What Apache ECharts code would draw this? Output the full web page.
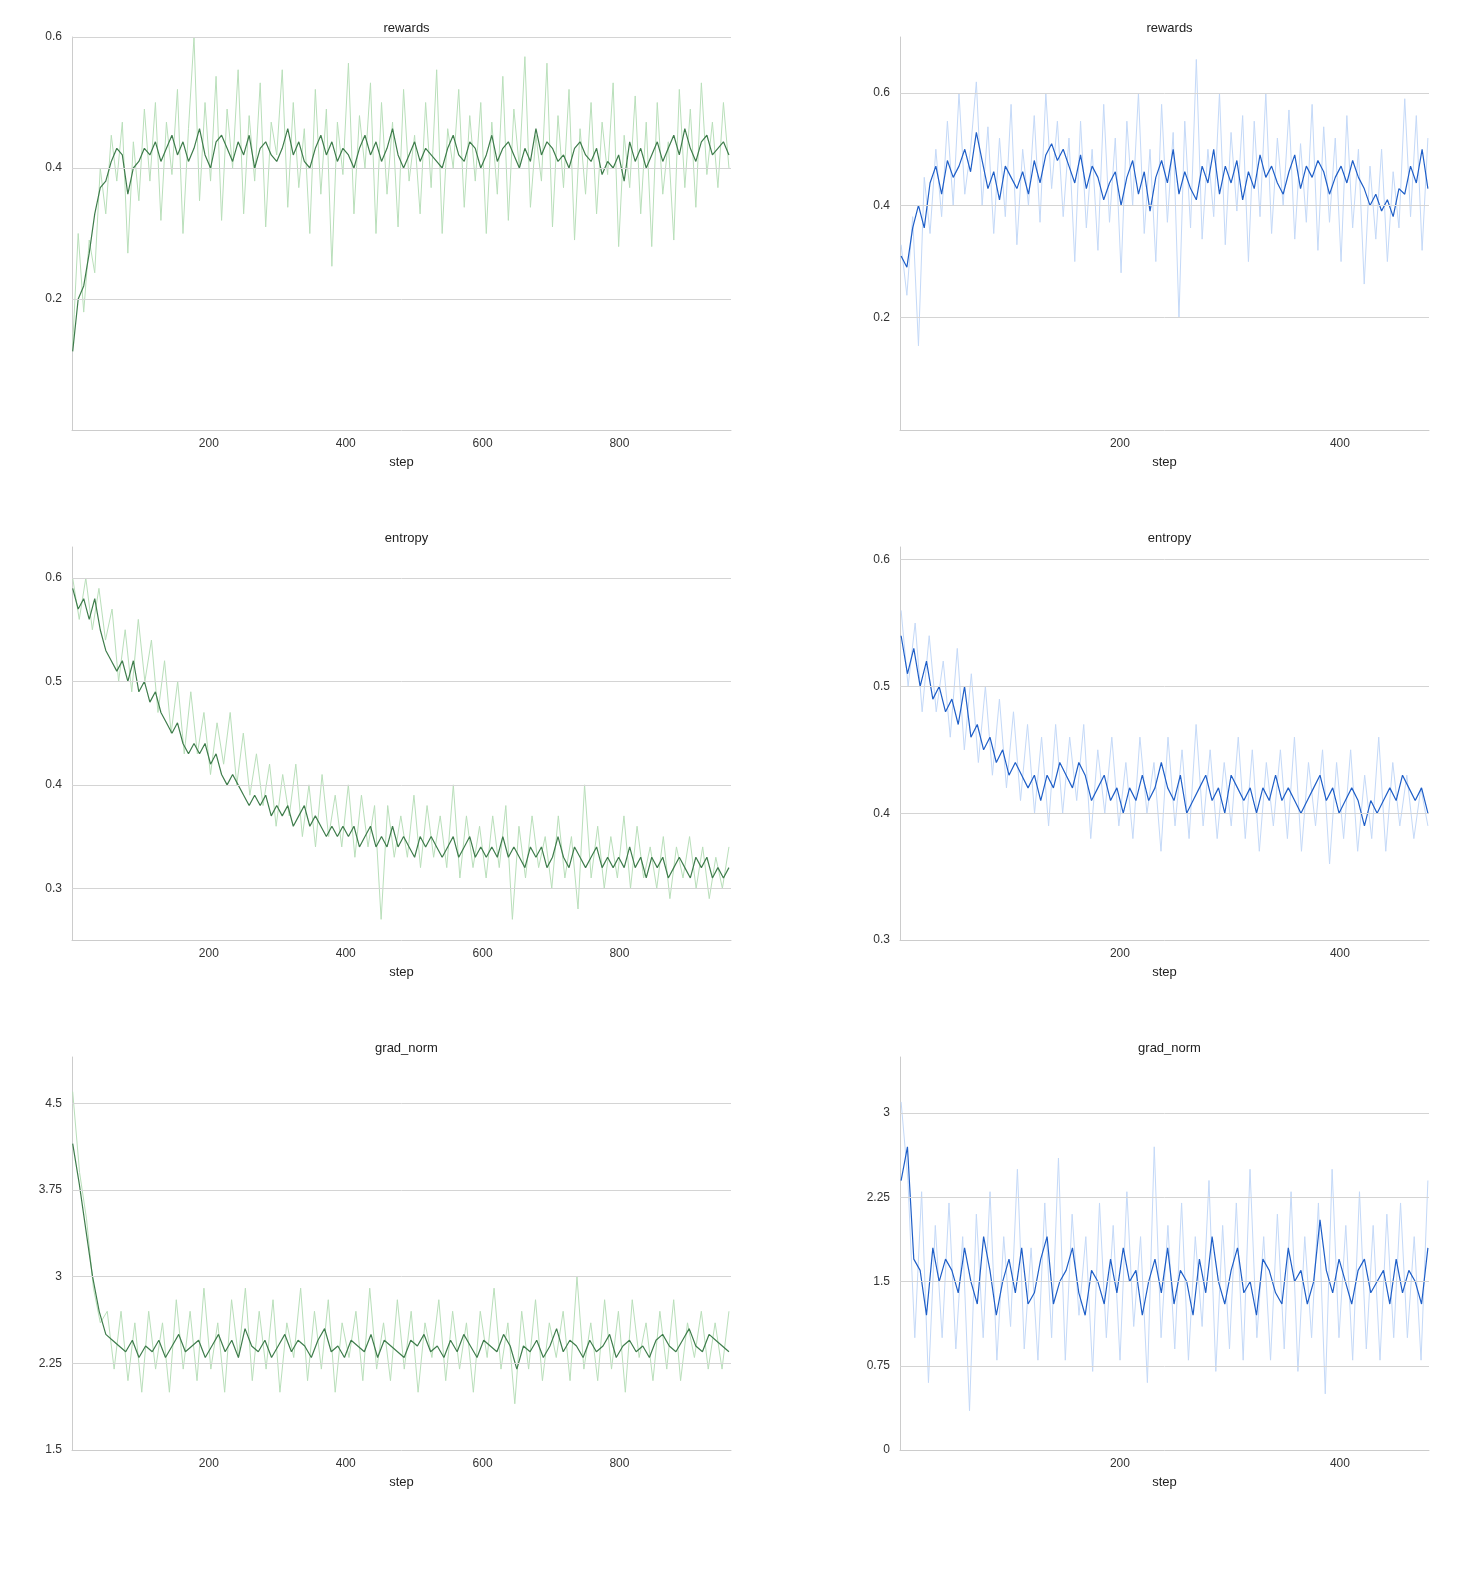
<!DOCTYPE html>
<html>
<head>
<meta charset="utf-8">
<script src="https://cdn.jsdelivr.net/npm/echarts@6/dist/echarts.min.js"></script>
<style>html,body{margin:0;background:#fff}#main{width:1475px;height:1583px}</style>
</head>
<body>
<div id="main"></div>
<script>
// left run (~960 steps), green
const leftRewardsSmooth = [0.12,0.2,0.22,0.27,0.33,0.37,0.38,0.41,0.43,0.42,0.36,0.40,0.41,0.43,0.42,0.44,0.41,0.43,0.45,0.42,0.44,0.41,0.43,0.46,0.42,0.40,0.44,0.45,0.43,0.41,0.44,0.42,0.45,0.40,0.43,0.44,0.42,0.41,0.43,0.46,0.42,0.44,0.41,0.40,0.43,0.45,0.42,0.44,0.41,0.43,0.42,0.40,0.43,0.45,0.42,0.44,0.41,0.43,0.46,0.42,0.40,0.42,0.44,0.41,0.43,0.42,0.41,0.40,0.43,0.45,0.42,0.41,0.44,0.43,0.40,0.42,0.45,0.41,0.43,0.44,0.42,0.40,0.43,0.41,0.46,0.42,0.44,0.43,0.41,0.42,0.40,0.43,0.44,0.42,0.41,0.43,0.39,0.41,0.40,0.42,0.38,0.44,0.41,0.43,0.40,0.42,0.44,0.41,0.43,0.45,0.42,0.46,0.43,0.41,0.44,0.45,0.42,0.43,0.44,0.42]
const leftRewardsRaw = [0.13,0.3,0.18,0.29,0.24,0.4,0.33,0.45,0.38,0.47,0.27,0.44,0.35,0.49,0.38,0.5,0.32,0.47,0.39,0.52,0.3,0.46,0.6,0.35,0.5,0.38,0.54,0.32,0.49,0.4,0.55,0.33,0.48,0.38,0.53,0.31,0.47,0.42,0.55,0.34,0.5,0.37,0.46,0.3,0.52,0.36,0.49,0.25,0.47,0.39,0.56,0.33,0.48,0.4,0.53,0.3,0.5,0.36,0.47,0.31,0.52,0.38,0.45,0.33,0.5,0.37,0.55,0.3,0.46,0.4,0.52,0.34,0.48,0.38,0.5,0.3,0.47,0.36,0.54,0.32,0.49,0.4,0.57,0.34,0.45,0.38,0.56,0.31,0.48,0.37,0.52,0.29,0.46,0.36,0.5,0.33,0.47,0.39,0.53,0.28,0.45,0.37,0.51,0.33,0.47,0.28,0.5,0.36,0.44,0.29,0.52,0.37,0.49,0.34,0.53,0.39,0.47,0.37,0.5,0.4]
const leftEntropySmooth = [0.59,0.57,0.58,0.56,0.58,0.55,0.53,0.52,0.51,0.52,0.50,0.52,0.49,0.50,0.48,0.49,0.47,0.46,0.45,0.46,0.44,0.43,0.44,0.43,0.44,0.42,0.43,0.41,0.40,0.41,0.40,0.39,0.38,0.39,0.38,0.39,0.37,0.38,0.37,0.38,0.36,0.37,0.38,0.36,0.37,0.36,0.35,0.36,0.35,0.36,0.35,0.36,0.34,0.35,0.36,0.34,0.35,0.34,0.36,0.34,0.35,0.34,0.33,0.35,0.34,0.35,0.34,0.33,0.34,0.35,0.33,0.34,0.35,0.33,0.34,0.33,0.34,0.33,0.35,0.33,0.34,0.33,0.32,0.34,0.33,0.34,0.32,0.33,0.35,0.33,0.32,0.34,0.33,0.32,0.33,0.34,0.32,0.33,0.32,0.33,0.32,0.34,0.32,0.33,0.31,0.33,0.32,0.33,0.31,0.32,0.33,0.32,0.31,0.33,0.32,0.33,0.31,0.32,0.31,0.32]
const leftEntropyRaw = [0.6,0.56,0.6,0.55,0.59,0.54,0.57,0.5,0.55,0.49,0.56,0.5,0.54,0.47,0.52,0.45,0.5,0.43,0.49,0.43,0.47,0.41,0.46,0.42,0.47,0.4,0.45,0.39,0.43,0.38,0.42,0.36,0.41,0.37,0.42,0.35,0.4,0.34,0.41,0.35,0.39,0.34,0.4,0.33,0.39,0.34,0.38,0.27,0.38,0.33,0.37,0.33,0.39,0.32,0.38,0.33,0.37,0.32,0.4,0.31,0.37,0.32,0.36,0.31,0.37,0.32,0.38,0.27,0.36,0.31,0.37,0.32,0.35,0.3,0.37,0.31,0.35,0.28,0.4,0.31,0.36,0.3,0.35,0.31,0.37,0.3,0.36,0.31,0.34,0.3,0.35,0.29,0.34,0.31,0.35,0.3,0.34,0.29,0.33,0.3,0.34]
const leftGradSmooth = [4.15,3.8,3.4,3.0,2.7,2.5,2.45,2.4,2.35,2.45,2.3,2.4,2.35,2.45,2.3,2.4,2.5,2.35,2.4,2.45,2.3,2.4,2.5,2.35,2.45,2.3,2.55,2.4,2.35,2.45,2.3,2.4,2.5,2.35,2.45,2.4,2.3,2.45,2.55,2.35,2.4,2.3,2.45,2.4,2.35,2.5,2.3,2.45,2.4,2.35,2.3,2.45,2.4,2.5,2.35,2.4,2.3,2.45,2.35,2.5,2.4,2.3,2.45,2.4,2.35,2.5,2.4,2.2,2.4,2.35,2.45,2.3,2.4,2.55,2.35,2.45,2.4,2.3,2.45,2.35,2.4,2.5,2.3,2.4,2.45,2.35,2.4,2.3,2.45,2.5,2.4,2.35,2.45,2.55,2.4,2.35,2.5,2.45,2.4,2.35]
const leftGradRaw = [4.6,3.9,3.5,2.9,2.6,2.7,2.2,2.7,2.1,2.6,2.0,2.7,2.2,2.6,2.0,2.8,2.2,2.7,2.1,2.9,2.2,2.6,2.0,2.8,2.3,2.9,2.1,2.7,2.2,2.8,2.0,2.6,2.3,2.9,2.1,2.7,2.2,2.8,2.0,2.6,2.3,2.7,2.1,2.9,2.2,2.6,2.1,2.8,2.2,2.7,2.0,2.6,2.3,2.8,2.1,2.7,2.2,2.6,2.0,2.7,2.3,2.9,2.2,2.6,1.9,2.7,2.2,2.8,2.1,2.6,2.3,2.7,2.1,3.0,2.2,2.6,2.1,2.8,2.2,2.7,2.0,2.8,2.3,2.6,2.1,2.7,2.2,2.8,2.1,2.6,2.3,2.7,2.2,2.6,2.2,2.7]

// right run (~480 steps), blue
const rightRewardsSmooth = [0.31,0.29,0.36,0.40,0.36,0.44,0.47,0.42,0.48,0.45,0.47,0.50,0.46,0.53,0.48,0.43,0.46,0.41,0.47,0.45,0.43,0.46,0.42,0.48,0.44,0.49,0.51,0.48,0.50,0.47,0.44,0.49,0.43,0.47,0.45,0.41,0.44,0.46,0.40,0.45,0.48,0.42,0.46,0.39,0.45,0.48,0.44,0.50,0.42,0.46,0.43,0.41,0.47,0.44,0.50,0.42,0.47,0.44,0.48,0.41,0.46,0.43,0.49,0.45,0.47,0.44,0.42,0.46,0.49,0.43,0.47,0.45,0.48,0.46,0.42,0.45,0.47,0.44,0.48,0.45,0.43,0.40,0.42,0.39,0.41,0.38,0.43,0.42,0.47,0.44,0.50,0.43]
const rightRewardsRaw = [0.33,0.24,0.38,0.15,0.45,0.35,0.5,0.38,0.55,0.4,0.6,0.42,0.5,0.62,0.4,0.54,0.35,0.52,0.38,0.58,0.33,0.5,0.4,0.56,0.37,0.6,0.43,0.55,0.38,0.52,0.3,0.55,0.36,0.5,0.32,0.58,0.37,0.52,0.28,0.55,0.4,0.6,0.35,0.5,0.3,0.58,0.37,0.53,0.2,0.55,0.36,0.66,0.34,0.5,0.38,0.6,0.33,0.53,0.39,0.56,0.3,0.55,0.38,0.6,0.35,0.52,0.4,0.57,0.34,0.51,0.37,0.58,0.32,0.54,0.37,0.52,0.3,0.56,0.36,0.5,0.26,0.47,0.34,0.5,0.3,0.46,0.36,0.59,0.38,0.56,0.32,0.52]
const rightEntropySmooth = [0.54,0.51,0.53,0.5,0.52,0.49,0.5,0.48,0.49,0.47,0.5,0.46,0.47,0.45,0.46,0.44,0.45,0.43,0.44,0.43,0.42,0.43,0.41,0.43,0.42,0.44,0.43,0.42,0.44,0.43,0.41,0.42,0.43,0.41,0.42,0.40,0.42,0.41,0.43,0.41,0.42,0.44,0.42,0.41,0.43,0.40,0.41,0.42,0.43,0.41,0.42,0.40,0.43,0.42,0.41,0.42,0.40,0.42,0.41,0.43,0.41,0.42,0.41,0.40,0.41,0.42,0.43,0.41,0.42,0.40,0.41,0.42,0.41,0.39,0.41,0.40,0.41,0.42,0.41,0.43,0.42,0.41,0.42,0.4]
const rightEntropyRaw = [0.56,0.5,0.55,0.48,0.54,0.48,0.52,0.46,0.53,0.45,0.51,0.44,0.5,0.43,0.49,0.42,0.48,0.41,0.47,0.4,0.46,0.39,0.47,0.4,0.46,0.41,0.47,0.38,0.45,0.4,0.46,0.39,0.44,0.38,0.46,0.4,0.44,0.37,0.46,0.39,0.45,0.38,0.47,0.39,0.45,0.38,0.44,0.39,0.46,0.38,0.45,0.37,0.44,0.39,0.45,0.38,0.46,0.37,0.44,0.39,0.45,0.36,0.44,0.38,0.45,0.37,0.43,0.38,0.46,0.37,0.44,0.39,0.43,0.38,0.42,0.39]
const rightGradSmooth = [2.4,2.7,1.7,1.6,1.2,1.8,1.5,1.7,1.6,1.4,1.8,1.5,1.3,1.9,1.6,1.2,1.5,1.7,1.4,1.8,1.3,1.4,1.7,1.9,1.3,1.5,1.6,1.8,1.4,1.2,1.6,1.5,1.3,1.7,1.4,1.8,1.5,1.6,1.2,1.5,1.7,1.4,1.8,1.3,1.6,1.5,1.2,1.7,1.4,1.9,1.5,1.3,1.6,1.8,1.4,1.5,1.2,1.7,1.6,1.4,1.3,1.8,1.5,1.6,1.3,1.5,2.05,1.6,1.4,1.7,1.5,1.3,1.6,1.7,1.4,1.5,1.6,1.3,1.7,1.4,1.6,1.5,1.3,1.8]
const rightGradRaw = [3.1,2.4,1.0,2.3,0.6,2.0,1.0,2.2,0.9,1.9,0.35,2.1,1.0,2.3,0.8,1.9,1.1,2.5,0.9,1.8,0.8,2.2,1.0,2.6,0.8,2.1,1.2,1.9,0.7,2.2,1.0,2.0,0.8,2.3,1.1,1.9,0.6,2.7,1.0,2.0,0.9,2.2,0.8,1.9,1.1,2.4,0.7,2.0,0.9,2.2,0.8,2.5,1.0,1.9,0.8,2.1,0.9,2.3,0.7,1.9,1.0,2.2,0.5,2.5,1.0,2.0,0.8,2.3,0.9,2.0,0.8,2.1,1.0,2.2,1.0,1.9,0.8,2.4]

const xTicks = [200, 400, 600, 800]

const panels = [
  { title: 'rewards', side: 0, row: 0, smooth: leftRewardsSmooth, raw: leftRewardsRaw, min: 0, max: 0.6, step: 0.2, labels: [0.2, 0.4, 0.6], grid: [0.2, 0.4, 0.6] },
  { title: 'rewards', side: 1, row: 0, smooth: rightRewardsSmooth, raw: rightRewardsRaw, min: 0, max: 0.7, step: 0.1, labels: [0.2, 0.4, 0.6], grid: [0.2, 0.4, 0.6] },
  { title: 'entropy', side: 0, row: 1, smooth: leftEntropySmooth, raw: leftEntropyRaw, min: 0.25, max: 0.63, step: 0.05, labels: [0.3, 0.4, 0.5, 0.6], grid: [0.3, 0.4, 0.5, 0.6] },
  { title: 'entropy', side: 1, row: 1, smooth: rightEntropySmooth, raw: rightEntropyRaw, min: 0.3, max: 0.61, step: 0.1, labels: [0.3, 0.4, 0.5, 0.6], grid: [0.4, 0.5, 0.6] },
  { title: 'grad_norm', side: 0, row: 2, smooth: leftGradSmooth, raw: leftGradRaw, min: 1.5, max: 4.9, step: 0.75, labels: [1.5, 2.25, 3, 3.75, 4.5], grid: [2.25, 3, 3.75, 4.5] },
  { title: 'grad_norm', side: 1, row: 2, smooth: rightGradSmooth, raw: rightGradRaw, min: 0, max: 3.5, step: 0.75, labels: [0, 0.75, 1.5, 2.25, 3], grid: [0.75, 1.5, 2.25, 3] }
]

const sides = [
  { left: 72, right: 744, xMax: 963, span: 960, dark: '#3f7d4c', light: '#b9dfba' },
  { left: 900, right: 46, xMax: 481, span: 480, dark: '#1f5fc8', light: '#c4d9f8' }
]
const tops = [37, 547, 1057]

const near = (a, b) => Math.abs(a - b) < 1e-6
const toPoints = (arr, span) => arr.map((v, i) => [1 + i * (span - 1) / (arr.length - 1), v])

let option = { animation: false, backgroundColor: '#fff', title: [], grid: [], xAxis: [], yAxis: [], series: [] }

panels.forEach((p, i) => {
  const s = sides[p.side]
  option.grid.push({ left: s.left, right: s.right, top: tops[p.row], height: 393 })
  const gridW = 1475 - s.left - s.right
  option.title.push({
    text: p.title, left: s.left + gridW / 2, top: tops[p.row] - 20, textAlign: 'center',
    textStyle: { fontSize: 13, fontWeight: 'normal', color: '#222', fontFamily: 'Liberation Sans' }
  })
  option.xAxis.push({
    gridIndex: i, type: 'value', min: 0, max: s.xMax, interval: 100,
    name: 'step', nameLocation: 'middle', nameGap: 26,
    nameTextStyle: { fontSize: 13, color: '#222', fontFamily: 'Liberation Sans' },
    axisLine: { lineStyle: { color: '#ccc' } }, axisTick: { show: false }, splitLine: { show: false },
    axisLabel: { fontSize: 12, color: '#333', fontFamily: 'Liberation Sans', showMaxLabel: false,
      formatter: v => xTicks.includes(v) ? String(v) : '' }
  })
  option.yAxis.push({
    gridIndex: i, type: 'value', min: p.min, max: p.max, interval: p.step,
    axisLine: { show: true, lineStyle: { color: '#ccc' } }, axisTick: { show: false }, splitLine: { show: false },
    axisLabel: { fontSize: 12, color: '#333', fontFamily: 'Liberation Sans', margin: 10,
      formatter: v => p.labels.some(l => near(l, v)) ? String(+v.toFixed(2)) : '' }
  })
  option.series.push({
    type: 'line', xAxisIndex: i, yAxisIndex: i, data: toPoints(p.raw, s.span), symbol: 'none',
    lineStyle: { color: s.light, width: 1 }, z: 2,
    markLine: { silent: true, symbol: 'none', label: { show: false },
      lineStyle: { color: '#d4d4d4', type: 'solid', width: 1 },
      data: p.grid.map(g => ({ yAxis: g })) }
  })
  option.series.push({
    type: 'line', xAxisIndex: i, yAxisIndex: i, data: toPoints(p.smooth, s.span), symbol: 'none',
    lineStyle: { color: s.dark, width: 1.2 }, z: 3
  })
})

const chart = echarts.init(document.getElementById('main'))
chart.setOption(option)
</script>
</body>
</html>
